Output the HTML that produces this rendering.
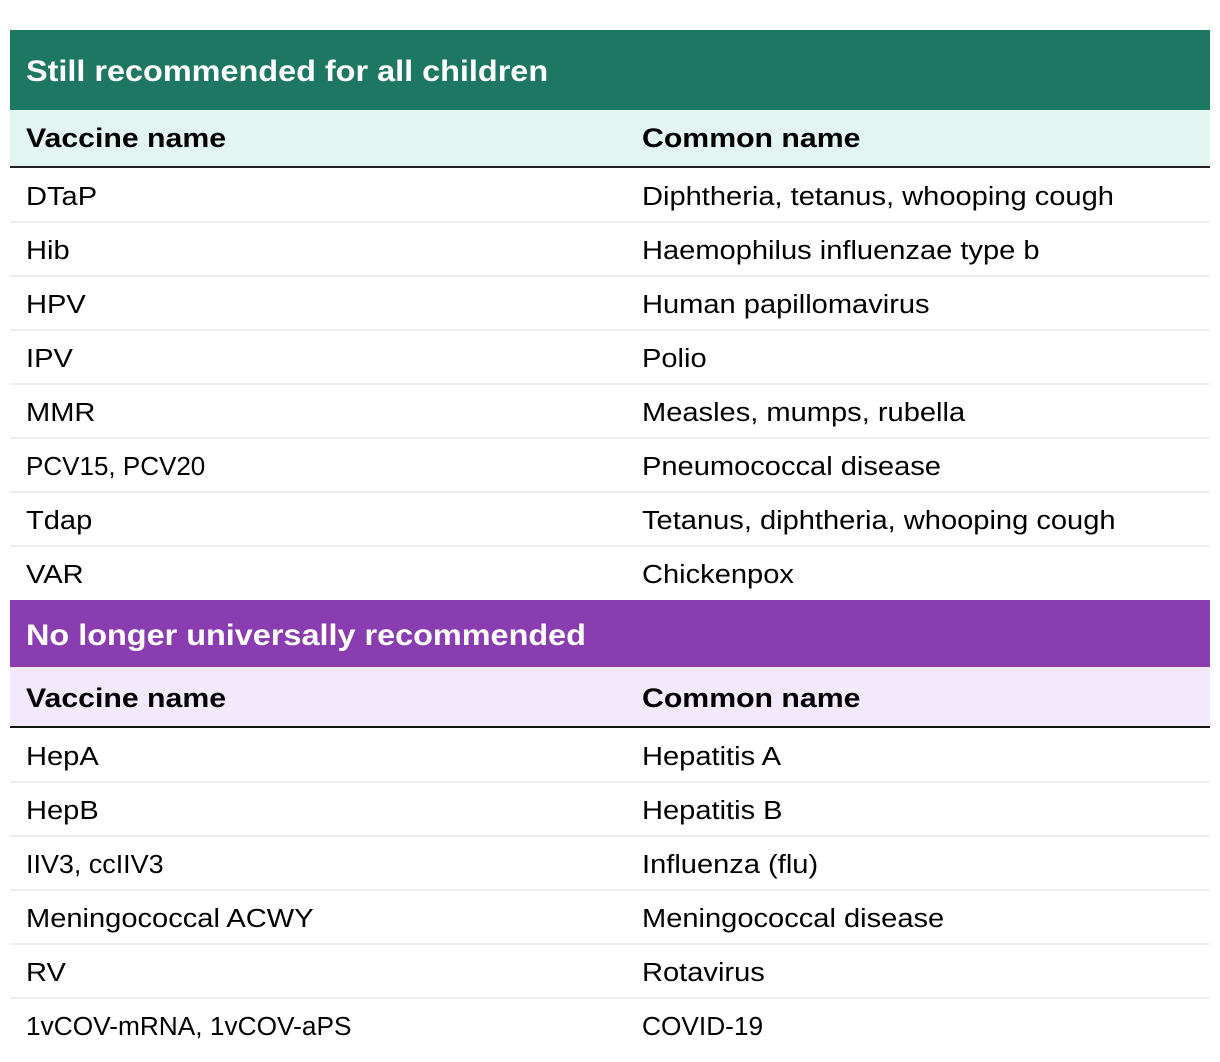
<!DOCTYPE html>
<html><head><meta charset="utf-8"><style>
body{margin:0;width:1220px;height:1062px;background:#fff;position:relative;overflow:hidden;font-family:"Liberation Sans",sans-serif;color:#000}
.b{position:absolute;left:10px;width:1200px}
.t{position:absolute;white-space:nowrap;line-height:1;transform-origin:0 50%}
.h{color:#fff;font-size:30px;font-weight:bold;left:26px;transform:scaleX(1.08)}
.s{font-size:27px;font-weight:bold;transform:scaleX(1.12)}
.r{font-size:25.5px;transform:scaleX(1.14)}
</style></head><body>
<div class="b" style="top:30px;height:80px;background:#1e7762"></div>
<div class="t h" style="top:57px">Still recommended for all children</div>
<div class="b" style="top:110px;height:56px;background:#e3f5f1"></div>
<div class="b" style="top:166px;height:2px;background:#222"></div>
<div class="t s" style="top:125px;left:26px">Vaccine name</div>
<div class="t s" style="top:125px;left:642px">Common name</div>

<div class="b" style="top:600px;height:67px;background:#8a3db0"></div>
<div class="t h" style="top:621px">No longer universally recommended</div>
<div class="b" style="top:667px;height:59px;background:#f2eafc"></div>
<div class="b" style="top:726px;height:2px;background:#111"></div>
<div class="t s" style="top:685px;left:26px">Vaccine name</div>
<div class="t s" style="top:685px;left:642px">Common name</div>

<div class="b" style="top:221px;height:2px;background:#eee"></div>
<div class="b" style="top:275px;height:2px;background:#eee"></div>
<div class="b" style="top:329px;height:2px;background:#eee"></div>
<div class="b" style="top:383px;height:2px;background:#eee"></div>
<div class="b" style="top:437px;height:2px;background:#eee"></div>
<div class="b" style="top:491px;height:2px;background:#eee"></div>
<div class="b" style="top:545px;height:2px;background:#eee"></div>
<div class="b" style="top:781px;height:2px;background:#eee"></div>
<div class="b" style="top:835px;height:2px;background:#eee"></div>
<div class="b" style="top:889px;height:2px;background:#eee"></div>
<div class="b" style="top:943px;height:2px;background:#eee"></div>
<div class="b" style="top:997px;height:2px;background:#eee"></div>

<div class="t r" style="top:185px;left:26px">DTaP</div><div class="t r" style="top:185px;left:642px">Diphtheria, tetanus, whooping cough</div>
<div class="t r" style="top:239px;left:26px">Hib</div><div class="t r" style="top:239px;left:642px">Haemophilus influenzae type b</div>
<div class="t r" style="top:293px;left:26px">HPV</div><div class="t r" style="top:293px;left:642px">Human papillomavirus</div>
<div class="t r" style="top:347px;left:26px">IPV</div><div class="t r" style="top:347px;left:642px">Polio</div>
<div class="t r" style="top:401px;left:26px">MMR</div><div class="t r" style="top:401px;left:642px">Measles, mumps, rubella</div>
<div class="t r" style="top:455px;left:26px;transform:scaleX(1.02)">PCV15, PCV20</div><div class="t r" style="top:455px;left:642px">Pneumococcal disease</div>
<div class="t r" style="top:509px;left:26px">Tdap</div><div class="t r" style="top:509px;left:642px">Tetanus, diphtheria, whooping cough</div>
<div class="t r" style="top:563px;left:26px">VAR</div><div class="t r" style="top:563px;left:642px">Chickenpox</div>

<div class="t r" style="top:745px;left:26px">HepA</div><div class="t r" style="top:745px;left:642px">Hepatitis A</div>
<div class="t r" style="top:799px;left:26px">HepB</div><div class="t r" style="top:799px;left:642px">Hepatitis B</div>
<div class="t r" style="top:853px;left:26px;transform:scaleX(1.055)">IIV3, ccIIV3</div><div class="t r" style="top:853px;left:642px">Influenza (flu)</div>
<div class="t r" style="top:907px;left:26px">Meningococcal ACWY</div><div class="t r" style="top:907px;left:642px">Meningococcal disease</div>
<div class="t r" style="top:961px;left:26px">RV</div><div class="t r" style="top:961px;left:642px">Rotavirus</div>
<div class="t r" style="top:1015px;left:26px;transform:scaleX(1.03)">1vCOV-mRNA, 1vCOV-aPS</div><div class="t r" style="top:1015px;left:642px;transform:scaleX(1.03)">COVID-19</div>
</body></html>
